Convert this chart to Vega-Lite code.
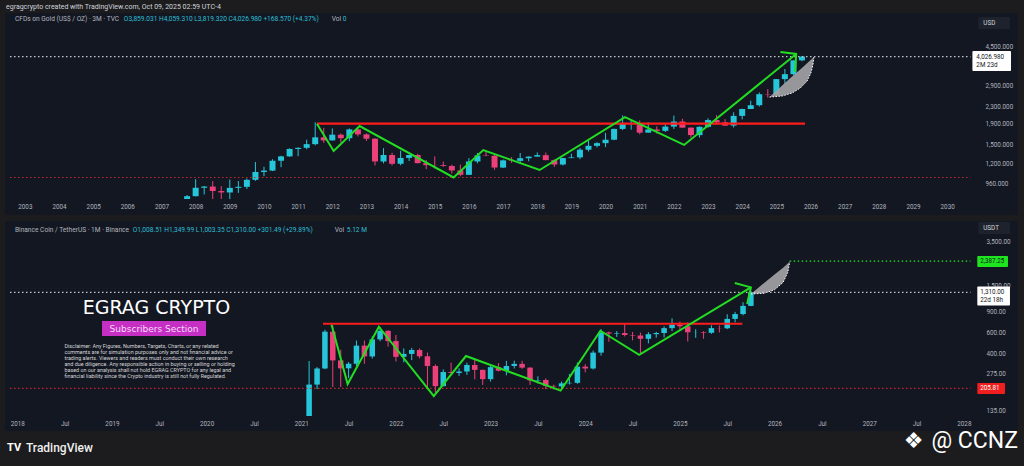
{
"$schema": "https://vega.github.io/schema/vega-lite/v6.json",
"background": "#1c1c1e",
"padding": {"left": 5, "top": 3, "right": 6, "bottom": 5},
"spacing": 6,
"bounds": "flush",
"title": {"text": "egragcrypto created with TradingView.com, Oct 09, 2025 02:59 UTC-4", "anchor": "start", "fontSize": 7, "font": "Roboto", "fontWeight": "normal", "color": "#d1d4dc", "offset": 3, "dx": 1},
"config": {
  "view": {"stroke": null, "fill": "#131722"},
  "axis": {"domain": false, "ticks": false, "grid": false, "labelColor": "#b2b5be", "labelFont": "Roboto", "labelFontSize": 6.3, "labelFlush": false, "labelOverlap": false, "labelBound": false, "labelSeparation": 0, "zindex": 2},
  "text": {"font": "Roboto"}
},
"datasets": {
  "gold": [
    {"t":2007.75,"o":743,"h":845,"l":725,"c":834},
    {"t":2008.0,"o":834,"h":1011,"l":832,"c":917},
    {"t":2008.25,"o":917,"h":935,"l":850,"c":930},
    {"t":2008.5,"o":930,"h":988,"l":735,"c":884},
    {"t":2008.75,"o":884,"h":934,"l":681,"c":870},
    {"t":2009.0,"o":870,"h":1006,"l":800,"c":916},
    {"t":2009.25,"o":916,"h":990,"l":866,"c":927},
    {"t":2009.5,"o":927,"h":1018,"l":905,"c":1003},
    {"t":2009.75,"o":1003,"h":1226,"l":992,"c":1096},
    {"t":2010.0,"o":1096,"h":1162,"l":1045,"c":1113},
    {"t":2010.25,"o":1113,"h":1265,"l":1107,"c":1244},
    {"t":2010.5,"o":1244,"h":1315,"l":1157,"c":1307},
    {"t":2010.75,"o":1307,"h":1431,"l":1300,"c":1421},
    {"t":2011.0,"o":1421,"h":1447,"l":1309,"c":1439},
    {"t":2011.25,"o":1439,"h":1577,"l":1415,"c":1500},
    {"t":2011.5,"o":1500,"h":1920,"l":1480,"c":1620},
    {"t":2011.75,"o":1620,"h":1803,"l":1523,"c":1565},
    {"t":2012.0,"o":1565,"h":1791,"l":1562,"c":1669},
    {"t":2012.25,"o":1669,"h":1693,"l":1527,"c":1604},
    {"t":2012.5,"o":1604,"h":1790,"l":1551,"c":1772},
    {"t":2012.75,"o":1772,"h":1796,"l":1636,"c":1675},
    {"t":2013.0,"o":1675,"h":1694,"l":1555,"c":1595},
    {"t":2013.25,"o":1595,"h":1605,"l":1180,"c":1234},
    {"t":2013.5,"o":1234,"h":1434,"l":1208,"c":1327},
    {"t":2013.75,"o":1327,"h":1361,"l":1181,"c":1202},
    {"t":2014.0,"o":1202,"h":1392,"l":1182,"c":1284},
    {"t":2014.25,"o":1284,"h":1332,"l":1240,"c":1327},
    {"t":2014.5,"o":1327,"h":1345,"l":1206,"c":1211},
    {"t":2014.75,"o":1211,"h":1255,"l":1131,"c":1184},
    {"t":2015.0,"o":1184,"h":1307,"l":1142,"c":1183},
    {"t":2015.25,"o":1183,"h":1232,"l":1162,"c":1172},
    {"t":2015.5,"o":1172,"h":1191,"l":1077,"c":1115},
    {"t":2015.75,"o":1115,"h":1191,"l":1046,"c":1061},
    {"t":2016.0,"o":1061,"h":1282,"l":1061,"c":1234},
    {"t":2016.25,"o":1234,"h":1358,"l":1208,"c":1321},
    {"t":2016.5,"o":1321,"h":1375,"l":1310,"c":1315},
    {"t":2016.75,"o":1315,"h":1337,"l":1123,"c":1152},
    {"t":2017.0,"o":1152,"h":1261,"l":1146,"c":1249},
    {"t":2017.25,"o":1249,"h":1296,"l":1214,"c":1242},
    {"t":2017.5,"o":1242,"h":1357,"l":1204,"c":1280},
    {"t":2017.75,"o":1280,"h":1306,"l":1236,"c":1303},
    {"t":2018.0,"o":1303,"h":1366,"l":1302,"c":1325},
    {"t":2018.25,"o":1325,"h":1365,"l":1250,"c":1253},
    {"t":2018.5,"o":1253,"h":1265,"l":1160,"c":1192},
    {"t":2018.75,"o":1192,"h":1285,"l":1180,"c":1282},
    {"t":2019.0,"o":1282,"h":1346,"l":1280,"c":1292},
    {"t":2019.25,"o":1292,"h":1438,"l":1266,"c":1409},
    {"t":2019.5,"o":1409,"h":1557,"l":1381,"c":1472},
    {"t":2019.75,"o":1472,"h":1535,"l":1445,"c":1517},
    {"t":2020.0,"o":1517,"h":1703,"l":1451,"c":1577},
    {"t":2020.25,"o":1577,"h":1788,"l":1568,"c":1781},
    {"t":2020.5,"o":1781,"h":2075,"l":1757,"c":1886},
    {"t":2020.75,"o":1886,"h":1966,"l":1765,"c":1898},
    {"t":2021.0,"o":1898,"h":1959,"l":1677,"c":1708},
    {"t":2021.25,"o":1708,"h":1916,"l":1705,"c":1770},
    {"t":2021.5,"o":1770,"h":1834,"l":1690,"c":1743},
    {"t":2021.75,"o":1743,"h":1877,"l":1721,"c":1829},
    {"t":2022.0,"o":1829,"h":2070,"l":1780,"c":1937},
    {"t":2022.25,"o":1937,"h":1998,"l":1805,"c":1807},
    {"t":2022.5,"o":1807,"h":1814,"l":1614,"c":1661},
    {"t":2022.75,"o":1661,"h":1833,"l":1616,"c":1824},
    {"t":2023.0,"o":1824,"h":2009,"l":1805,"c":1969},
    {"t":2023.25,"o":1969,"h":2079,"l":1893,"c":1919},
    {"t":2023.5,"o":1919,"h":1987,"l":1848,"c":1849},
    {"t":2023.75,"o":1849,"h":2146,"l":1810,"c":2063},
    {"t":2024.0,"o":2063,"h":2236,"l":1984,"c":2230},
    {"t":2024.25,"o":2230,"h":2450,"l":2229,"c":2327},
    {"t":2024.5,"o":2327,"h":2686,"l":2293,"c":2635},
    {"t":2024.75,"o":2635,"h":2790,"l":2536,"c":2625},
    {"t":2025.0,"o":2625,"h":3128,"l":2596,"c":3124},
    {"t":2025.25,"o":3124,"h":3500,"l":2957,"c":3303},
    {"t":2025.5,"o":3303,"h":3859,"l":3268,"c":3859},
    {"t":2025.75,"o":3859.031,"h":4059.31,"l":3819.32,"c":4026.98}
  ],
  "goldWedge": [
    {"t":2024.80,"top":2552,"bot":2552},
    {"t":2025.17,"top":2910,"bot":2582},
    {"t":2025.46,"top":3214,"bot":2670},
    {"t":2025.70,"top":3485,"bot":2824},
    {"t":2025.90,"top":3737,"bot":3057},
    {"t":2026.01,"top":3886,"bot":3345},
    {"t":2026.07,"top":3965,"bot":3663},
    {"t":2026.10,"top":4005,"bot":4005}
  ],
  "goldDraw": [
    {"seg":"zig","seq":1,"t":2011.55,"p":1890},
    {"seg":"zig","seq":2,"t":2012.04,"p":1388},
    {"seg":"zig","seq":3,"t":2012.80,"p":1840},
    {"seg":"zig","seq":4,"t":2015.55,"p":1030},
    {"seg":"zig","seq":5,"t":2016.42,"p":1403},
    {"seg":"zig","seq":6,"t":2018.07,"p":1121},
    {"seg":"zig","seq":7,"t":2020.57,"p":2037},
    {"seg":"zig","seq":8,"t":2022.30,"p":1487},
    {"seg":"zig","seq":9,"t":2025.58,"p":4148},
    {"seg":"arrow","seq":1,"t":2025.12,"p":4240},
    {"seg":"arrow","seq":2,"t":2025.58,"p":4148},
    {"seg":"arrow","seq":3,"t":2025.55,"p":3384}
  ],
  "goldRed": [{"t":2011.55,"p":1890},{"t":2025.84,"p":1890}],
  "goldLevels": [
    {"kind":"cur","p":4026.98,"t1":2002.565,"t2":2030.68},
    {"kind":"sup","p":1030,"t1":2002.565,"t2":2030.68}
  ],
  "goldBoxes": [
    {"kind":"cur","t1":2030.74,"t2":2031.87,"p1":3424,"p2":4290},
    {"kind":"unit","t1":2030.913,"t2":2031.84,"p1":5499,"p2":6295}
  ],
  "goldBoxText": [
    {"kind":"cur","t":2030.855,"p":4026.98,"txt":"4,026.980"},
    {"kind":"cur","t":2030.855,"p":3664,"txt":"2M 23d"},
    {"kind":"unit","t":2031.06,"p":5884,"txt":"USD"}
  ],
  "goldHeader": [
    {"kind":"name","t":2002.71,"p":6155,"txt":"CFDs on Gold (US$ / OZ) · 3M · TVC"},
    {"kind":"val","t":2005.898,"p":6155,"txt":"O3,859.031   H4,059.310   L3,819.320   C4,026.980   +168.570 (+4.37%)"},
    {"kind":"name","t":2011.985,"p":6155,"txt":"Vol"},
    {"kind":"val","t":2012.304,"p":6155,"txt":"0"}
  ],
  "bnb": [
    {"t":2021.083,"o":47.9,"h":348.7,"l":46.6,"c":221.5},
    {"t":2021.167,"o":221.5,"h":310,"l":203,"c":302},
    {"t":2021.25,"o":302,"h":638,"l":298,"c":614},
    {"t":2021.333,"o":614,"h":691,"l":211,"c":353},
    {"t":2021.417,"o":353,"h":433,"l":211,"c":303},
    {"t":2021.5,"o":303,"h":342,"l":251,"c":331},
    {"t":2021.583,"o":331,"h":518,"l":315,"c":469},
    {"t":2021.667,"o":469,"h":518,"l":330,"c":381},
    {"t":2021.75,"o":381,"h":560,"l":366,"c":529},
    {"t":2021.833,"o":529,"h":669,"l":511,"c":624},
    {"t":2021.917,"o":624,"h":630,"l":460,"c":512},
    {"t":2022.0,"o":512,"h":576,"l":345,"c":378},
    {"t":2022.083,"o":378,"h":445,"l":340,"c":400},
    {"t":2022.167,"o":400,"h":449,"l":355,"c":431},
    {"t":2022.25,"o":431,"h":445,"l":367,"c":382},
    {"t":2022.333,"o":382,"h":411,"l":212,"c":317},
    {"t":2022.417,"o":317,"h":327,"l":183,"c":215},
    {"t":2022.5,"o":215,"h":297,"l":214,"c":282},
    {"t":2022.583,"o":282,"h":338,"l":273,"c":277},
    {"t":2022.667,"o":277,"h":303,"l":262,"c":285},
    {"t":2022.75,"o":285,"h":338,"l":267,"c":323},
    {"t":2022.833,"o":323,"h":362,"l":245,"c":294},
    {"t":2022.917,"o":294,"h":296,"l":220,"c":246},
    {"t":2023.0,"o":246,"h":320,"l":235,"c":310},
    {"t":2023.083,"o":310,"h":335,"l":285,"c":289},
    {"t":2023.167,"o":289,"h":350,"l":265,"c":317},
    {"t":2023.25,"o":317,"h":351,"l":302,"c":330},
    {"t":2023.333,"o":330,"h":350,"l":300,"c":307},
    {"t":2023.417,"o":307,"h":310,"l":220,"c":240},
    {"t":2023.5,"o":240,"h":260,"l":226,"c":242},
    {"t":2023.583,"o":242,"h":250,"l":203,"c":216},
    {"t":2023.667,"o":216,"h":221,"l":202,"c":214},
    {"t":2023.75,"o":214,"h":235,"l":203,"c":227},
    {"t":2023.833,"o":227,"h":272,"l":222,"c":229},
    {"t":2023.917,"o":229,"h":339,"l":225,"c":313},
    {"t":2024.0,"o":313,"h":328,"l":280,"c":302},
    {"t":2024.083,"o":302,"h":427,"l":296,"c":410},
    {"t":2024.167,"o":410,"h":645,"l":387,"c":605},
    {"t":2024.25,"o":605,"h":614,"l":505,"c":592},
    {"t":2024.333,"o":592,"h":620,"l":555,"c":598},
    {"t":2024.417,"o":598,"h":721,"l":560,"c":576},
    {"t":2024.5,"o":576,"h":611,"l":519,"c":570},
    {"t":2024.583,"o":570,"h":603,"l":400,"c":535},
    {"t":2024.667,"o":535,"h":608,"l":490,"c":585},
    {"t":2024.75,"o":585,"h":612,"l":547,"c":598},
    {"t":2024.833,"o":598,"h":680,"l":550,"c":657},
    {"t":2024.917,"o":657,"h":793,"l":620,"c":702},
    {"t":2025.0,"o":702,"h":745,"l":640,"c":681},
    {"t":2025.083,"o":681,"h":735,"l":508,"c":607},
    {"t":2025.167,"o":607,"h":644,"l":545,"c":608},
    {"t":2025.25,"o":608,"h":619,"l":535,"c":601},
    {"t":2025.333,"o":601,"h":694,"l":589,"c":657},
    {"t":2025.417,"o":657,"h":692,"l":605,"c":655},
    {"t":2025.5,"o":655,"h":859,"l":645,"c":785},
    {"t":2025.583,"o":785,"h":899,"l":735,"c":862},
    {"t":2025.667,"o":862,"h":1083,"l":841,"c":1008.51},
    {"t":2025.75,"o":1008.51,"h":1349.99,"l":1003.35,"c":1310}
  ],
  "bnbWedge": [
    {"t":2025.75,"top":1269,"bot":1269},
    {"t":2025.89,"top":1570,"bot":1287},
    {"t":2026.0,"top":1843,"bot":1377},
    {"t":2026.09,"top":2106,"bot":1587},
    {"t":2026.14,"top":2283,"bot":1929},
    {"t":2026.16,"top":2362,"bot":2362}
  ],
  "bnbDraw": [
    {"seg":"zig","seq":1,"t":2021.32,"p":700},
    {"seg":"zig","seq":2,"t":2021.49,"p":224},
    {"seg":"zig","seq":3,"t":2021.82,"p":675},
    {"seg":"zig","seq":4,"t":2022.40,"p":177},
    {"seg":"zig","seq":5,"t":2022.74,"p":384},
    {"seg":"zig","seq":6,"t":2023.74,"p":197},
    {"seg":"zig","seq":7,"t":2024.16,"p":625},
    {"seg":"zig","seq":8,"t":2024.57,"p":392},
    {"seg":"zig","seq":9,"t":2025.75,"p":1442},
    {"seg":"arrow","seq":1,"t":2025.58,"p":1567},
    {"seg":"arrow","seq":2,"t":2025.75,"p":1442},
    {"seg":"arrow","seq":3,"t":2025.71,"p":1046}
  ],
  "bnbRed": [{"t":2021.23,"p":715},{"t":2025.66,"p":715}],
  "bnbLevels": [
    {"kind":"cur","p":1310,"t1":2017.923,"t2":2028.07},
    {"kind":"sup","p":205.81,"t1":2017.923,"t2":2028.07},
    {"kind":"tgt","p":2387.25,"t1":2026.16,"t2":2028.07}
  ],
  "bnbBoxes": [
    {"kind":"tgt","t1":2028.142,"t2":2028.466,"p1":2132,"p2":2636},
    {"kind":"cur","t1":2028.142,"t2":2028.487,"p1":1017,"p2":1465},
    {"kind":"sup","t1":2028.142,"t2":2028.435,"p1":185,"p2":228},
    {"kind":"unit","t1":2028.153,"t2":2028.488,"p1":4030,"p2":5079}
  ],
  "bnbBoxText": [
    {"kind":"tgt","t":2028.173,"p":2387.25,"txt":"2,387.25"},
    {"kind":"cur","t":2028.173,"p":1310,"txt":"1,310.00"},
    {"kind":"cur","t":2028.173,"p":1130,"txt":"22d 18h"},
    {"kind":"sup","t":2028.173,"p":205.81,"txt":"205.81"},
    {"kind":"unit","t":2028.205,"p":4524,"txt":"USDT"}
  ],
  "bnbHeader": [
    {"kind":"name","t":2017.975,"p":4354,"txt":"Binance Coin / TetherUS · 1M · Binance"},
    {"kind":"val","t":2019.22,"p":4354,"txt":"O1,008.51   H1,349.99   L1,003.35   C1,310.00   +301.49 (+29.89%)"},
    {"kind":"name","t":2021.354,"p":4354,"txt":"Vol"},
    {"kind":"val","t":2021.48,"p":4354,"txt":"5.12 M"}
  ],
  "disclaimer": [
    {"t":2018.498,"p":466,"txt":"Disclaimer: Any Figures, Numbers, Targets, Charts, or any related"},
    {"t":2018.498,"p":415,"txt":"comments are for simulation purposes only and not financial advice or"},
    {"t":2018.498,"p":369,"txt":"trading alerts. Viewers and readers must conduct their own research"},
    {"t":2018.498,"p":329,"txt":"and due diligence. Any responsible action in buying or selling or holding"},
    {"t":2018.498,"p":293,"txt":"based on our analysis shall not hold EGRAG CRYPTO for any legal and"},
    {"t":2018.498,"p":261,"txt":"financial liability since the Crypto industry is still not fully Regulated."}
  ]
},
"vconcat": [
{
  "width": 1013, "height": 202,
  "layer": [
    {"data": {"name": "gold"}, "mark": {"type": "rule", "strokeWidth": 1},
     "encoding": {
       "x": {"field": "t", "type": "quantitative", "scale": {"domain": [2002.565, 2031.928], "nice": false, "zero": false},
             "axis": {"orient": "bottom", "offset": -16, "labelPadding": 4, "labelOverlap": false, "labelFlush": false, "tickCount": 30, "values": [2003,2004,2005,2006,2007,2008,2009,2010,2011,2012,2013,2014,2015,2016,2017,2018,2019,2020,2021,2022,2023,2024,2025,2026,2027,2028,2029,2030], "labelExpr": "format(datum.value, 'd')", "title": null}},
       "y": {"field": "l", "type": "quantitative", "scale": {"type": "log", "domain": [808, 6586], "range": [186, 0], "clamp": true, "nice": false},
             "axis": {"orient": "right", "offset": -43, "labelPadding": 10, "labelOverlap": false, "values": [960,1200,1500,1900,2300,2900,4500], "format": ",.3f", "title": null}},
       "y2": {"field": "h"},
       "color": {"condition": {"test": "datum.c >= datum.o", "value": "#26c6da"}, "value": "#ec407a"}
     }},
    {"data": {"name": "gold"}, "mark": {"type": "bar", "width": 6},
     "encoding": {
       "x": {"field": "t", "type": "quantitative", "scale": {"domain": [2002.565, 2031.928], "nice": false, "zero": false},
             "axis": {"orient": "bottom", "offset": -16, "labelPadding": 4, "labelOverlap": false, "labelFlush": false, "tickCount": 30, "values": [2003,2004,2005,2006,2007,2008,2009,2010,2011,2012,2013,2014,2015,2016,2017,2018,2019,2020,2021,2022,2023,2024,2025,2026,2027,2028,2029,2030], "labelExpr": "format(datum.value, 'd')", "title": null}},
       "y": {"field": "o", "type": "quantitative", "scale": {"type": "log", "domain": [808, 6586], "range": [186, 0], "clamp": true, "nice": false}},
       "y2": {"field": "c"},
       "color": {"condition": {"test": "datum.c >= datum.o", "value": "#26c6da"}, "value": "#ec407a"}
     }},
    {"data": {"name": "goldWedge"}, "mark": {"type": "area", "color": "#a3a3a6", "opacity": 0.92},
     "encoding": {
       "x": {"field": "t", "type": "quantitative", "scale": {"domain": [2002.565, 2031.928], "nice": false, "zero": false}},
       "y": {"field": "top", "type": "quantitative", "scale": {"type": "log", "domain": [808, 6586], "range": [186, 0], "clamp": true, "nice": false}},
       "y2": {"field": "bot"}
     }},
    {"data": {"name": "goldWedge"}, "mark": {"type": "line", "color": "#ffffff", "strokeWidth": 1, "strokeDash": [1.5, 1.5]},
     "encoding": {
       "x": {"field": "t", "type": "quantitative", "scale": {"domain": [2002.565, 2031.928], "nice": false, "zero": false}},
       "y": {"field": "bot", "type": "quantitative", "scale": {"type": "log", "domain": [808, 6586], "range": [186, 0], "clamp": true, "nice": false}}
     }},
    {"data": {"name": "goldLevels"}, "transform": [{"filter": "datum.kind == 'cur'"}], "mark": {"type": "rule", "color": "#c3c6ce", "strokeWidth": 1.2, "strokeDash": [1.5, 2.5]},
     "encoding": {
       "x": {"field": "t1", "type": "quantitative", "scale": {"domain": [2002.565, 2031.928], "nice": false, "zero": false}},
       "x2": {"field": "t2"},
       "y": {"field": "p", "type": "quantitative", "scale": {"type": "log", "domain": [808, 6586], "range": [186, 0], "clamp": true, "nice": false}}
     }},
    {"data": {"name": "goldLevels"}, "transform": [{"filter": "datum.kind == 'sup'"}], "mark": {"type": "rule", "color": "#c62828", "strokeWidth": 1.2, "strokeDash": [1.5, 2.5]},
     "encoding": {
       "x": {"field": "t1", "type": "quantitative", "scale": {"domain": [2002.565, 2031.928], "nice": false, "zero": false}},
       "x2": {"field": "t2"},
       "y": {"field": "p", "type": "quantitative", "scale": {"type": "log", "domain": [808, 6586], "range": [186, 0], "clamp": true, "nice": false}}
     }},
    {"data": {"name": "goldRed"}, "mark": {"type": "line", "color": "#ff1c1c", "strokeWidth": 2.2},
     "encoding": {
       "x": {"field": "t", "type": "quantitative", "scale": {"domain": [2002.565, 2031.928], "nice": false, "zero": false}},
       "y": {"field": "p", "type": "quantitative", "scale": {"type": "log", "domain": [808, 6586], "range": [186, 0], "clamp": true, "nice": false}}
     }},
    {"data": {"name": "goldDraw"}, "mark": {"type": "line", "color": "#22dd22", "strokeWidth": 2, "strokeJoin": "miter"},
     "encoding": {
       "x": {"field": "t", "type": "quantitative", "scale": {"domain": [2002.565, 2031.928], "nice": false, "zero": false}},
       "y": {"field": "p", "type": "quantitative", "scale": {"type": "log", "domain": [808, 6586], "range": [186, 0], "clamp": true, "nice": false}},
       "detail": {"field": "seg"},
       "order": {"field": "seq"}
     }},
    {"data": {"name": "goldBoxes"}, "mark": {"type": "rect", "cornerRadius": 1},
     "encoding": {
       "x": {"field": "t1", "type": "quantitative", "scale": {"domain": [2002.565, 2031.928], "nice": false, "zero": false}},
       "x2": {"field": "t2"},
       "y": {"field": "p1", "type": "quantitative", "scale": {"type": "log", "domain": [808, 6586], "range": [186, 0], "clamp": true, "nice": false}},
       "y2": {"field": "p2"},
       "color": {"condition": {"test": "datum.kind == 'unit'", "value": "#1e222d"}, "value": "#ffffff"}
     }},
    {"data": {"name": "goldBoxText"}, "mark": {"type": "text", "align": "left", "baseline": "middle", "fontSize": 6.3},
     "encoding": {
       "x": {"field": "t", "type": "quantitative", "scale": {"domain": [2002.565, 2031.928], "nice": false, "zero": false}},
       "y": {"field": "p", "type": "quantitative", "scale": {"type": "log", "domain": [808, 6586], "range": [186, 0], "clamp": true, "nice": false}},
       "text": {"field": "txt"},
       "color": {"condition": {"test": "datum.kind == 'unit'", "value": "#d1d4dc"}, "value": "#131722"}
     }},
    {"data": {"name": "goldHeader"}, "mark": {"type": "text", "align": "left", "baseline": "middle", "fontSize": 6.6},
     "encoding": {
       "x": {"field": "t", "type": "quantitative", "scale": {"domain": [2002.565, 2031.928], "nice": false, "zero": false}},
       "y": {"field": "p", "type": "quantitative", "scale": {"type": "log", "domain": [808, 6586], "range": [186, 0], "clamp": true, "nice": false}},
       "text": {"field": "txt"},
       "color": {"condition": {"test": "datum.kind == 'val'", "value": "#2bbfd2"}, "value": "#b2b5be"}
     }}
  ]
},
{
  "width": 1013, "height": 210,
  "layer": [
    {"data": {"name": "bnb"}, "mark": {"type": "rule", "strokeWidth": 1},
     "encoding": {
       "x": {"field": "t", "type": "quantitative", "scale": {"domain": [2017.923, 2028.519], "nice": false, "zero": false},
             "axis": {"orient": "bottom", "offset": -15, "labelPadding": 4, "labelOverlap": false, "labelFlush": false, "values": [2018,2018.5,2019,2019.5,2020,2020.5,2021,2021.5,2022,2022.5,2023,2023.5,2024,2024.5,2025,2025.5,2026,2026.5,2027,2027.5,2028], "labelExpr": "datum.value % 1 == 0 ? format(datum.value, 'd') : 'Jul'", "title": null}},
       "y": {"field": "l", "type": "quantitative", "scale": {"type": "log", "domain": [120.9, 5178], "range": [195, 0], "clamp": true, "nice": false},
             "axis": {"orient": "right", "offset": -43, "labelPadding": 11, "labelOverlap": false, "values": [135,275,400,600,900,1500,3500], "format": ",.2f", "title": null}},
       "y2": {"field": "h"},
       "color": {"condition": {"test": "datum.c >= datum.o", "value": "#26c6da"}, "value": "#ec407a"}
     }},
    {"data": {"name": "bnb"}, "mark": {"type": "bar", "width": 5.5},
     "encoding": {
       "x": {"field": "t", "type": "quantitative", "scale": {"domain": [2017.923, 2028.519], "nice": false, "zero": false}},
       "y": {"field": "o", "type": "quantitative", "scale": {"type": "log", "domain": [120.9, 5178], "range": [195, 0], "clamp": true, "nice": false}},
       "y2": {"field": "c"},
       "color": {"condition": {"test": "datum.c >= datum.o", "value": "#26c6da"}, "value": "#ec407a"}
     }},
    {"data": {"name": "bnbWedge"}, "mark": {"type": "area", "color": "#a3a3a6", "opacity": 0.92},
     "encoding": {
       "x": {"field": "t", "type": "quantitative", "scale": {"domain": [2017.923, 2028.519], "nice": false, "zero": false}},
       "y": {"field": "top", "type": "quantitative", "scale": {"type": "log", "domain": [120.9, 5178], "range": [195, 0], "clamp": true, "nice": false}},
       "y2": {"field": "bot"}
     }},
    {"data": {"name": "bnbWedge"}, "mark": {"type": "line", "color": "#ffffff", "strokeWidth": 1, "strokeDash": [1.5, 1.5]},
     "encoding": {
       "x": {"field": "t", "type": "quantitative", "scale": {"domain": [2017.923, 2028.519], "nice": false, "zero": false}},
       "y": {"field": "bot", "type": "quantitative", "scale": {"type": "log", "domain": [120.9, 5178], "range": [195, 0], "clamp": true, "nice": false}}
     }},
    {"data": {"name": "bnbLevels"}, "transform": [{"filter": "datum.kind == 'cur'"}], "mark": {"type": "rule", "color": "#c3c6ce", "strokeWidth": 1.2, "strokeDash": [1.5, 2.5]},
     "encoding": {
       "x": {"field": "t1", "type": "quantitative", "scale": {"domain": [2017.923, 2028.519], "nice": false, "zero": false}},
       "x2": {"field": "t2"},
       "y": {"field": "p", "type": "quantitative", "scale": {"type": "log", "domain": [120.9, 5178], "range": [195, 0], "clamp": true, "nice": false}}
     }},
    {"data": {"name": "bnbLevels"}, "transform": [{"filter": "datum.kind == 'sup'"}], "mark": {"type": "rule", "color": "#c62828", "strokeWidth": 1.2, "strokeDash": [1.5, 2.5]},
     "encoding": {
       "x": {"field": "t1", "type": "quantitative", "scale": {"domain": [2017.923, 2028.519], "nice": false, "zero": false}},
       "x2": {"field": "t2"},
       "y": {"field": "p", "type": "quantitative", "scale": {"type": "log", "domain": [120.9, 5178], "range": [195, 0], "clamp": true, "nice": false}}
     }},
    {"data": {"name": "bnbLevels"}, "transform": [{"filter": "datum.kind == 'tgt'"}], "mark": {"type": "rule", "color": "#1ee61e", "strokeWidth": 1.2, "strokeDash": [1.5, 2.5]},
     "encoding": {
       "x": {"field": "t1", "type": "quantitative", "scale": {"domain": [2017.923, 2028.519], "nice": false, "zero": false}},
       "x2": {"field": "t2"},
       "y": {"field": "p", "type": "quantitative", "scale": {"type": "log", "domain": [120.9, 5178], "range": [195, 0], "clamp": true, "nice": false}}
     }},
    {"data": {"name": "bnbRed"}, "mark": {"type": "line", "color": "#ff1c1c", "strokeWidth": 2.2},
     "encoding": {
       "x": {"field": "t", "type": "quantitative", "scale": {"domain": [2017.923, 2028.519], "nice": false, "zero": false}},
       "y": {"field": "p", "type": "quantitative", "scale": {"type": "log", "domain": [120.9, 5178], "range": [195, 0], "clamp": true, "nice": false}}
     }},
    {"data": {"name": "bnbDraw"}, "mark": {"type": "line", "color": "#22dd22", "strokeWidth": 2, "strokeJoin": "miter"},
     "encoding": {
       "x": {"field": "t", "type": "quantitative", "scale": {"domain": [2017.923, 2028.519], "nice": false, "zero": false}},
       "y": {"field": "p", "type": "quantitative", "scale": {"type": "log", "domain": [120.9, 5178], "range": [195, 0], "clamp": true, "nice": false}},
       "detail": {"field": "seg"},
       "order": {"field": "seq"}
     }},
    {"data": {"name": "bnbBoxes"}, "mark": {"type": "rect", "cornerRadius": 1},
     "encoding": {
       "x": {"field": "t1", "type": "quantitative", "scale": {"domain": [2017.923, 2028.519], "nice": false, "zero": false}},
       "x2": {"field": "t2"},
       "y": {"field": "p1", "type": "quantitative", "scale": {"type": "log", "domain": [120.9, 5178], "range": [195, 0], "clamp": true, "nice": false}},
       "y2": {"field": "p2"},
       "color": {"condition": [{"test": "datum.kind == 'unit'", "value": "#1e222d"}, {"test": "datum.kind == 'tgt'", "value": "#1ee61e"}, {"test": "datum.kind == 'sup'", "value": "#f01e1e"}], "value": "#ffffff"}
     }},
    {"data": {"name": "bnbBoxText"}, "mark": {"type": "text", "align": "left", "baseline": "middle", "fontSize": 6.3},
     "encoding": {
       "x": {"field": "t", "type": "quantitative", "scale": {"domain": [2017.923, 2028.519], "nice": false, "zero": false}},
       "y": {"field": "p", "type": "quantitative", "scale": {"type": "log", "domain": [120.9, 5178], "range": [195, 0], "clamp": true, "nice": false}},
       "text": {"field": "txt"},
       "color": {"condition": [{"test": "datum.kind == 'unit'", "value": "#d1d4dc"}, {"test": "datum.kind == 'sup'", "value": "#ffffff"}], "value": "#131722"}
     }},
    {"data": {"name": "bnbHeader"}, "mark": {"type": "text", "align": "left", "baseline": "middle", "fontSize": 6.6},
     "encoding": {
       "x": {"field": "t", "type": "quantitative", "scale": {"domain": [2017.923, 2028.519], "nice": false, "zero": false}},
       "y": {"field": "p", "type": "quantitative", "scale": {"type": "log", "domain": [120.9, 5178], "range": [195, 0], "clamp": true, "nice": false}},
       "text": {"field": "txt"},
       "color": {"condition": {"test": "datum.kind == 'val'", "value": "#2bbfd2"}, "value": "#b2b5be"}
     }},
    {"data": {"values": [{"t1": 2018.895, "t2": 2019.994, "p1": 565, "p2": 754}]}, "mark": {"type": "rect", "color": "#c52fc4"},
     "encoding": {
       "x": {"field": "t1", "type": "quantitative", "scale": {"domain": [2017.923, 2028.519], "nice": false, "zero": false}},
       "x2": {"field": "t2"},
       "y": {"field": "p1", "type": "quantitative", "scale": {"type": "log", "domain": [120.9, 5178], "range": [195, 0], "clamp": true, "nice": false}},
       "y2": {"field": "p2"}
     }},
    {"data": {"values": [{"t": 2019.445, "p": 652, "txt": "Subscribers Section"}]}, "mark": {"type": "text", "align": "center", "baseline": "middle", "fontSize": 9, "font": "DejaVu Sans", "color": "#f7dcf7"},
     "encoding": {
       "x": {"field": "t", "type": "quantitative", "scale": {"domain": [2017.923, 2028.519], "nice": false, "zero": false}},
       "y": {"field": "p", "type": "quantitative", "scale": {"type": "log", "domain": [120.9, 5178], "range": [195, 0], "clamp": true, "nice": false}},
       "text": {"field": "txt"}
     }},
    {"data": {"values": [{"t": 2019.47, "p": 969, "txt": "EGRAG CRYPTO"}]}, "mark": {"type": "text", "align": "center", "baseline": "middle", "fontSize": 19, "font": "DejaVu Sans", "color": "#ffffff"},
     "encoding": {
       "x": {"field": "t", "type": "quantitative", "scale": {"domain": [2017.923, 2028.519], "nice": false, "zero": false}},
       "y": {"field": "p", "type": "quantitative", "scale": {"type": "log", "domain": [120.9, 5178], "range": [195, 0], "clamp": true, "nice": false}},
       "text": {"field": "txt"}
     }},
    {"data": {"name": "disclaimer"}, "mark": {"type": "text", "align": "left", "baseline": "middle", "fontSize": 5.4, "color": "#d6d6d6"},
     "encoding": {
       "x": {"field": "t", "type": "quantitative", "scale": {"domain": [2017.923, 2028.519], "nice": false, "zero": false}},
       "y": {"field": "p", "type": "quantitative", "scale": {"type": "log", "domain": [120.9, 5178], "range": [195, 0], "clamp": true, "nice": false}},
       "text": {"field": "txt"}
     }}
  ]
},
{
  "width": 1013, "height": 24,
  "view": {"fill": null, "stroke": null},
  "layer": [
    {"data": {"values": [{"x": 0.002, "y": 0.55, "txt": "TV"}]}, "mark": {"type": "text", "align": "left", "baseline": "middle", "fontSize": 11, "fontWeight": "bold", "color": "#ffffff", "font": "Roboto"},
     "encoding": {
       "x": {"field": "x", "type": "quantitative", "scale": {"domain": [0, 1]}, "axis": null},
       "y": {"field": "y", "type": "quantitative", "scale": {"domain": [0, 1]}, "axis": null},
       "text": {"field": "txt"}
     }},
    {"data": {"values": [{"x": 0.0207, "y": 0.55, "txt": "TradingView"}]}, "mark": {"type": "text", "align": "left", "baseline": "middle", "fontSize": 12, "fontWeight": 500, "color": "#f0f0f0", "font": "Roboto"},
     "encoding": {
       "x": {"field": "x", "type": "quantitative", "scale": {"domain": [0, 1]}, "axis": null},
       "y": {"field": "y", "type": "quantitative", "scale": {"domain": [0, 1]}, "axis": null},
       "text": {"field": "txt"}
     }},
    {"data": {"values": [{"x": 0.897, "y": 0.82, "txt": "❖"}]}, "mark": {"type": "text", "align": "center", "baseline": "middle", "fontSize": 22, "color": "#ffffff", "font": "DejaVu Sans"},
     "encoding": {
       "x": {"field": "x", "type": "quantitative", "scale": {"domain": [0, 1]}, "axis": null},
       "y": {"field": "y", "type": "quantitative", "scale": {"domain": [0, 1]}, "axis": null},
       "text": {"field": "txt"}
     }},
    {"data": {"values": [{"x": 1, "y": 0.82, "txt": "@ CCNZ"}]}, "mark": {"type": "text", "align": "right", "baseline": "middle", "fontSize": 23, "color": "#ffffff", "font": "Roboto"},
     "encoding": {
       "x": {"field": "x", "type": "quantitative", "scale": {"domain": [0, 1]}, "axis": null},
       "y": {"field": "y", "type": "quantitative", "scale": {"domain": [0, 1]}, "axis": null},
       "text": {"field": "txt"}
     }}
  ]
}
]
}
